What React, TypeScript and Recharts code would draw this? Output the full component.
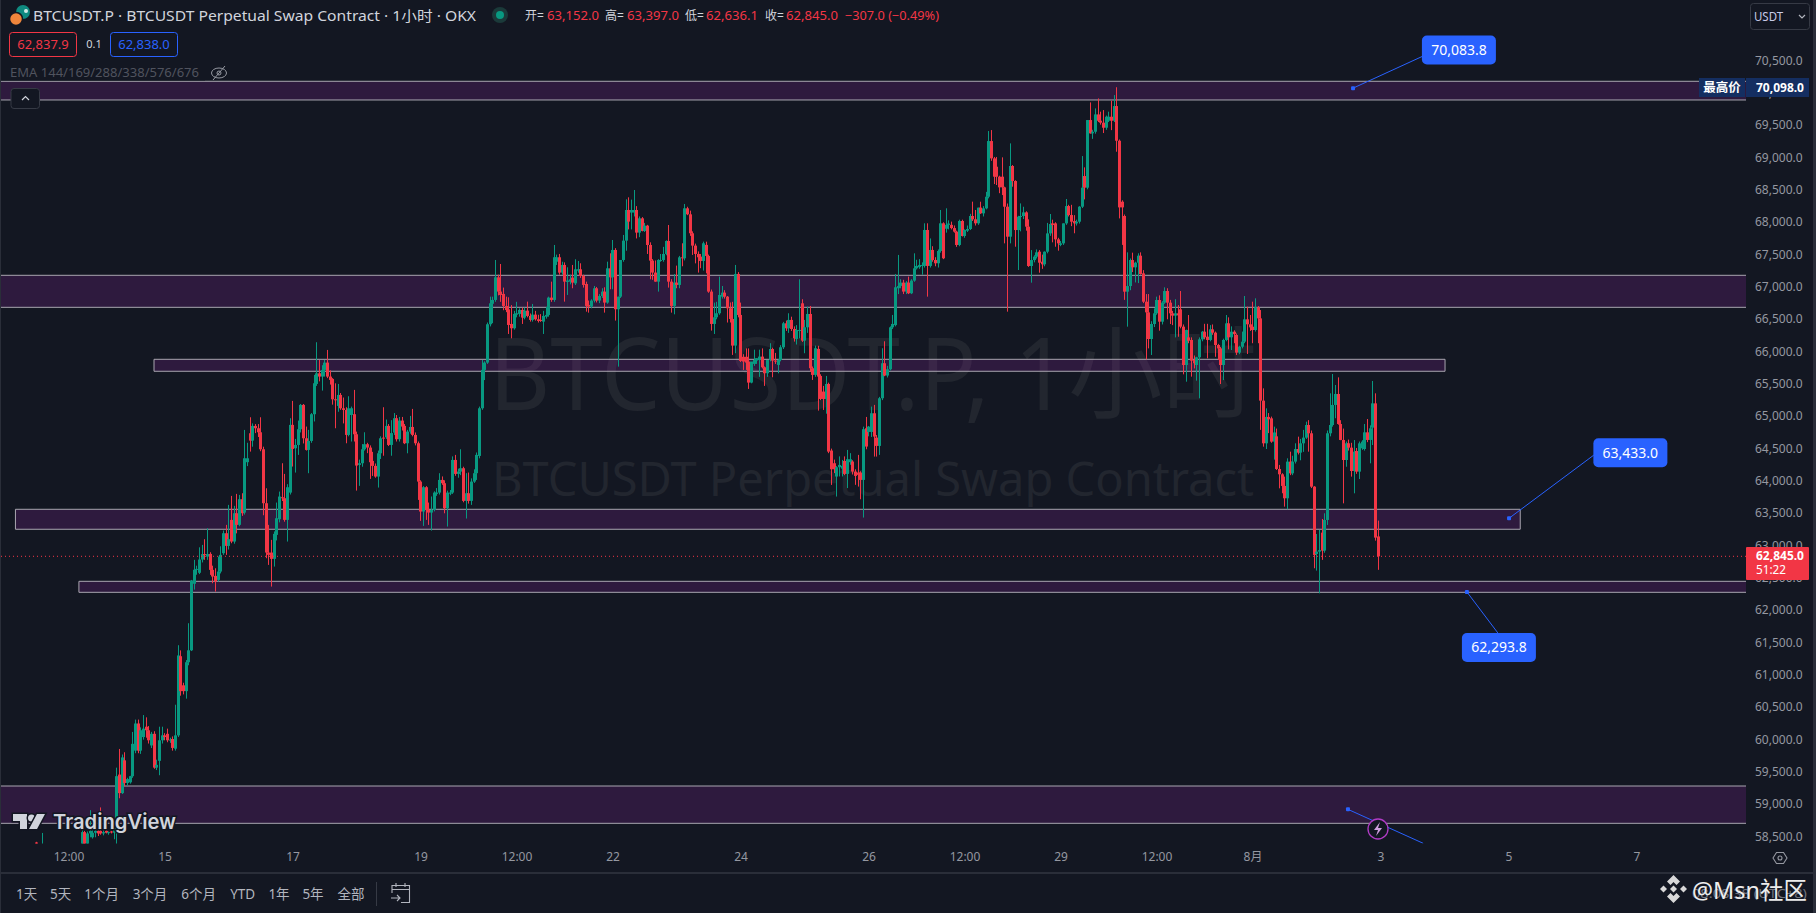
import React from "react";
import { ComposedChart, XAxis, YAxis, Bar, ReferenceArea, ReferenceLine, ReferenceDot } from "recharts";

const FONT = '"Noto Sans","Noto Sans CJK SC",sans-serif';
const UP = "#089981";
const DOWN = "#f23645";
const BG = "#131722";

// Hours counted from 15 Jul 00:00. Each row: open, high, low, close.
const earlyStart = -48;
const earlyRows = [[58420,58430,58250,58340],[58340,58370,58200,58280],[58280,58567,58250,58340]];
const rallyStart = -31;
const rallyRows = [
[58300,58640,58250,58580],[58580,58600,58300,58350],[58350,58590,58300,58560],[58560,58920,58500,58600],[58500,58640,58480,58570],
[58570,58680,58500,58600],[58600,58650,58520,58560],[58600,58962,58540,58560],[58560,58610,58530,58580],[58600,58610,58560,58570],
[58570,58590,58540,58580],[58590,58600,58560,58575],[58570,58640,58470,58620],[58620,59577,58394,59445],[59470,59866,59104,59183],
[59183,59780,59170,59735],[59690,59815,59290,59340],[59340,59420,59300,59400],[59350,59450,59330,59445],[59445,60129,59420,59945],
[59840,60320,59800,60260],[60260,60320,59800,59840],[59840,60200,59790,60155],[60050,60390,60010,60180],[60210,60355,60040,60155],
[60155,60220,59950,60000],[59920,60130,59880,60100],[60100,60140,59560,59577],[59577,59700,59540,59620],[59682,60210,59460,60000],
[60000,60210,59950,60076],[60076,60110,60000,60050],[60100,60180,59970,60000],[60000,60040,59960,60010],[60020,60060,59840,59882],
[59870,60550,59840,60076],[60076,61470,60050,61312],[61300,61390,60690,60760],[60850,60890,60710,60760],[60760,61240,60644,61207],
[61207,61810,61160,61391],[61391,62480,61380,62469],[62420,62790,62330,62637],[62637,62700,62560,62650],[62590,62984,62570,62795],
[62795,63021,62750,62879],
];
const climbStart = 15;
const climbRows = [
[62880,63109,62790,62867],[62840,63279,62790,62880],[62882,62908,62558,62635],[62635,62700,62429,62532],[62542,62660,62300,62455],
[62480,62841,62455,62609],[62609,63000,62580,62867],[62893,63243,62867,63202],[63202,63331,62867,63006],[63006,63640,62950,63110],
[63408,63779,63047,63073],[63073,63625,63040,63511],[63511,63810,63200,63331],[63331,63794,63310,63728],[63728,63820,63470,63511],
[63521,64799,63490,64361],[64300,64600,64240,64361],[64748,64995,64464,64634],[64634,64900,64540,64861],[64861,64890,64750,64825],
[64825,64890,64690,64763],[64763,64995,64470,64500],[64500,64540,63480,63666],[63666,63897,62815,62903],[62903,63331,62712,62867],
[62903,63099,62377,62805],[62805,63230,62686,63192],[63176,63676,63090,63434],[63418,63846,63370,63769],[63758,64284,63700,63743],
[63743,64119,63380,63408],[63408,63960,63073,63913],[63830,64980,63800,64877],[64877,65248,64233,64505],[64515,64660,64140,64567],
[64567,64944,64413,64810],[64810,65200,64760,65186],[65186,65200,64590,64670],[64670,64851,64480,64490],[64490,64800,64130,64629],
[64629,65060,64600,65042],[65042,65650,64930,65521],[65510,66155,65480,65675],[65675,65880,65550,65624],[65624,65800,65407,65727],
[65727,65880,65624,65840],[65840,66036,65600,65624],[65624,65720,65500,65572],[65588,65600,65190,65273],[65273,65520,64825,65263],
[65170,65510,65080,65340],[65340,65370,65110,65134],[65134,65300,64900,65108],[65108,65150,64593,64722],[64722,65320,64700,65134],
[65030,65160,64620,65134],[65042,65418,64620,64732],[64732,64773,63861,64248],[64258,64340,63934,64284],[64284,64580,64230,64500],
[64500,64763,64480,64578],[64578,64600,64440,64526],[64526,64560,64042,64300],[64320,64460,64088,64243],[64243,64280,64060,64078],
[64078,64480,63908,64438],[64438,64700,64350,64670],[64680,65150,64400,64670],[64686,64960,64660,64861],[64861,64890,64550,64567],
[64567,64950,64400,64750],[64758,65060,64720,64980],[64980,65030,64620,64655],[64655,65000,64620,64944],[64944,65000,64790,64851],
[64861,64890,64580,64593],[64593,64800,64438,64773],[64773,65016,64740,64845],[64845,65124,64700,64722],[64722,64760,64560,64593],
];
const breakoutStart = 95;
const breakoutRows = [
[64593,64620,63717,64000],[64000,64020,63393,63537],[63537,63930,63315,63913],[63913,63930,63408,63563],[63563,63676,63331,63521],
[63521,63770,63243,63563],[63563,63850,63540,63830],[63810,63900,63780,63830],[63830,64130,63800,64026],[64026,64080,63950,63975],
[63975,64020,63510,63588],[63588,63860,63305,63830],[63820,63870,63790,63830],[63830,64390,63810,64335],[64335,64413,64090,64119],
[64119,64200,64060,64155],[64155,64500,64100,64207],[64207,64230,63680,63702],[63702,64130,63429,63820],[63820,64140,63660,63702],
[63702,64050,63640,64000],[64000,64190,63980,64130],[64130,64450,64026,64413],[64397,65160,64360,65134],[65134,65880,65110,65727],
[65727,65860,65570,65840],[65840,66460,65820,66433],[66433,66860,66400,66757],[66750,66860,66450,66809],[66809,67427,66780,67159],
[67159,67200,66880,66938],[66938,67365,66780,66886],[66902,67000,66650,66716],[66716,66860,66620,66654],[66664,66850,66283,66422],
[66438,66730,66216,66371],[66371,66640,66350,66593],[66580,66780,66540,66603],[66593,66680,66550,66654],[66654,66690,66438,66536],
[66536,66690,66510,66644],[66644,66783,66540,66562],[66562,66600,66474,66500],[66500,66747,66474,66582],[66582,66640,66490,66510],
[66510,66580,66460,66484],[66500,66590,66470,66484],[66474,66640,66283,66562],[66550,66700,66520,66577],[66577,66860,66550,66845],
[66845,67092,66780,66809],[66809,67659,66780,67469],[67400,67510,67350,67469],[67469,67520,67200,67231],[67231,67400,67200,67350],
[67350,67390,66783,67092],[67087,67314,66886,67110],[67092,67200,67050,67128],[67154,67350,66990,67077],[67066,67438,67040,67283],
[67262,67412,67230,67283],[67283,67376,67150,67180],[67180,67200,67000,67041],
];
const rangeStart = 158;
const rangeRows = [
[67056,67092,66628,66716],[66732,66800,66613,66706],[66706,66820,66680,66799],[66799,67025,66770,66989],[66989,67010,66770,66799],
[66799,66900,66760,66870],[66870,66990,66840,66938],[66938,67005,66613,66768],[66768,67401,66750,67298],[67298,67530,66974,67159],
[67159,67736,66974,67582],[67582,67610,66490,66665],[66665,66860,65778,66860],[66860,67427,66840,67427],[67427,67814,67400,67726],
[67726,68365,67570,68200],[68200,68396,67900,68020],[68160,68360,67900,68200],[68160,68509,68100,68200],[68200,68260,67760,67850],
[67850,68100,67780,68071],[68071,68090,67870,67876],[67876,68000,67860,67958],[67958,67970,67520,67659],[67659,67700,67128,67417],
[67417,67440,67120,67232],[67232,67420,67090,67092],[67092,67440,66938,67427],[67412,67520,67400,67427],[67427,67630,67400,67520],
[67520,67730,67500,67721],[67721,67968,67000,67092],[67092,67130,66613,66716],[66716,67210,66587,67077],[67077,67340,66990,67041],
[67041,67490,66990,67468],[67468,67685,67330,67453],[67453,68293,67420,68226],[68226,68250,68120,68133],[68133,68190,67800,67840],
[67840,67870,67505,67649],[67649,67680,67375,67520],[67520,67560,67232,67469],[67479,67520,67300,67412],[67412,67711,67263,67685],
[67660,67710,67220,67489],[67489,67510,66920,66938],[66938,66970,66335,66438],[66438,66768,66283,66541],[66541,66780,66510,66603],
[66603,67170,66580,66886],[66860,67025,66830,66922],[66922,66960,66830,66860],[66860,66870,66460,66680],[66680,66770,66460,66515],
[66515,66780,65959,66103],[66103,67350,65985,67211],[67211,67240,66540,66577],[66577,66768,65850,65866],[65930,65970,65727,65856],
[65930,66060,65727,65840],[65856,66060,65433,65531],[65531,65850,65520,65856],[65820,66040,65790,65880],[65871,65910,65820,65907],
[65880,66040,65620,65933],[65933,66060,65750,65768],[65768,65780,65480,65675],[65675,65880,65620,65880],[65880,66140,65860,66051],
[66051,66070,65613,65871],[65871,65990,65820,65856],[65804,65890,65675,65880],[65880,66110,65860,66077],[66077,66470,66050,66448],
[66448,66490,66330,66371],[66371,66603,66300,66500],[66500,66550,66330,66360],[66360,66400,66165,66216],[66206,66420,66120,66345],
[66340,67128,66216,66345],[66757,66820,66160,66180],[66180,66500,65985,66386],[66386,66706,66300,66592],[66592,66716,65700,65753],
[65753,65780,65572,65650],[65650,66103,65620,66062],[66052,66100,65098,65624],
];
const dipStart = 246;
const dipRows = [
[65634,65660,65260,65278],[65392,65480,65108,65278],[65278,65634,65050,65510],[65510,65530,64440,64464],[64480,64510,63949,64191],
[64284,64340,64130,64191],[64078,64240,63769,64222],[64222,64390,64080,64258],[64200,64335,64080,64243],[64320,64390,64100,64119],
[64119,64490,63900,64346],[64300,64440,64260,64346],[64310,64330,64110,64155],[64155,64190,63950,64088],[64140,64413,63923,64104],
[64140,64160,63727,64026],[64026,64850,63444,64810],[64825,65000,64500,64542],[64768,64860,64700,64850],[64768,65160,64690,65057],
[65057,65186,64387,64696],[64680,64720,64387,64552],[64552,65310,64413,65289],[65289,66062,65260,65830],[65830,66170,65630,65640],
[65640,65790,65610,65737],[65737,66400,65720,66386],[66386,66577,66360,66438],[66420,67211,66400,67005],[66990,67505,66900,67025],
[67025,67130,66990,67077],[67077,67120,66900,66938],[66938,67100,66900,67077],[67077,67170,66900,66912],[66912,67130,66900,67108],
[67108,67530,67090,67298],[67298,67430,67280,67335],[67315,67440,67290,67350],[67335,67390,67200,67350],[67335,67994,67310,67891],
[67891,67994,66860,67335],[67335,67760,67310,67582],[67582,67640,67400,67427],[67427,67470,67330,67376],[67376,67590,67310,67566],
[67566,68200,67540,67994],[67994,68010,67440,67453],[67910,68226,67850,67970],[67970,68040,67900,67990],[67970,68020,67900,67920],
[67920,67960,67850,67865],[67865,67880,67630,67659],[67659,68050,67640,68030],[68030,68050,67790,67798],[67798,67900,67770,67891],
[67880,67960,67860,67906],[67906,68140,67890,68107],[68107,68329,68030,68056],[68056,68200,67960,67994],[67994,68236,67970,68236],
];
const topStart = 306;
const topRows = [
[68236,68328,68140,68148],[68148,68260,68100,68225],[68225,68480,68210,68405],[68405,69421,68380,69266],[69266,69436,68960,68998],
[68998,69020,68601,68715],[68869,69020,68586,68715],[68715,68730,68460,68550],[68715,69014,68431,68550],[68550,68560,67684,68251],
[68251,68300,66628,67787],[67787,69230,67684,68880],[68880,68895,68560,68648],[68648,68660,67632,67890],[67890,68110,67272,68096],
[68096,68302,67870,68107],[68107,68250,68060,68163],[68163,68180,67880,67942],[67942,68055,67320,67334],[67334,67580,67076,67426],
[67426,67500,67390,67478],[67478,67590,67450,67545],[67555,67580,67230,67385],[67400,67510,67290,67360],[67360,67560,67330,67555],
[67555,68000,67530,67838],[67838,68138,67800,67983],[67993,68050,67700,67968],[67993,68010,67632,67746],[67746,67770,67571,67684],
[67660,67720,67640,67684],[67684,67993,67660,67993],[67993,68370,67970,68261],[68261,68280,68100,68122],[68122,68280,67950,68019],
[68029,68120,67840,67993],[67993,68050,67960,68019],[68019,68260,67990,68251],[68251,69034,68230,68545],[68725,68859,68364,68545],
[68545,69591,68520,69591],[69591,69864,69380,69385],[69385,69440,69300,69410],[69410,69771,69380,69678],[69678,69925,69560,69580],
[69580,69720,69520,69550],[69550,69745,69390,69472],[69472,69660,69440,69642],[69580,69720,69560,69642],[69642,69890,69435,69580],
[69580,69977,69560,69807],[69807,70098,69101,69271],[69271,69290,68070,68240],[68328,68350,67660,68240],[68107,68130,66810,66937],
[66937,67545,66396,67024],[67024,67450,66960,67426],[67426,67540,67240,67313],[67313,67400,67080,67385],[67385,67530,67070,67493],
[67493,67545,67200,67210],[67220,67270,66760,66782],[66782,66900,65890,66617],[66617,66900,66060,66205],[66205,66480,65958,66437],
[66437,66680,66390,66602],[66602,66860,66580,66808],[66808,66880,66334,66473],[66473,66790,66430,66767],[66767,67004,66750,66947],
[66947,66990,66510,66767],[66767,66810,66437,66602],[66602,66640,66420,66566],[66566,66820,66230,66602],[66602,66730,66240,66570],
];
const slideStart = 381;
const slideRows = [
[66664,66947,66370,66396],[66396,66430,65659,65803],[65803,66350,65545,66344],[66230,66576,66140,66179],[66190,66230,65623,65870],
[65880,65950,65750,65830],[65803,65930,65561,65922],[65922,66230,65288,66200],[66200,66330,66170,66318],[66318,66440,66200,66231],
[66241,66440,65906,66190],[66190,66420,66170,66354],[66354,66430,66270,66303],[66303,66320,65930,66112],[66112,66130,65880,66060],
[66060,66080,65509,65803],[65803,66210,65570,66190],[66190,66576,66170,66447],[66447,66540,66045,66231],[66231,66400,66035,66318],
[66318,66340,66140,66280],[66267,66290,65958,65994],[65994,66100,65970,66086],[66086,66320,66060,66164],[66164,66870,66140,66509],
[66509,66705,65973,66432],[66432,66576,66330,66385],[66395,66782,66140,66344],[66344,66834,66320,66694],[66694,66715,66140,66524],
[66524,66653,64800,65252],[65252,65442,64540,64592],[64592,65133,64504,65000],[65000,65060,64750,64963],[64978,65005,64600,64618],
[64618,64850,64340,64760],[64700,64820,64180,64195],[64195,64258,63896,64113],[64113,64130,63820,63933],[63933,64077,63613,63742],
[63742,64360,63572,64309],[64309,64463,64100,64128],[64128,64400,64100,64309],[64309,64592,64280,64504],[64504,64695,64420,64448],
[64448,64660,64330,64592],[64592,64800,64460,64680],[64680,64927,64660,64875],[64875,64950,64463,64747],[64747,64790,63900,63922],
[63922,63930,62660,62866],[62880,63190,62624,62917],[62917,63253,62273,62940],[63211,63422,62790,62933],[62933,63510,62900,63407],
[63407,64790,63330,64747],[64747,65365,64700,64875],[64875,65664,64850,65185],[65185,65494,64980,65355],[65355,65612,64880,64891],
[64891,64950,64640,64644],[64644,64820,63664,64334],[64334,64620,64230,64592],[64592,64650,64480,64525],[64525,64600,64077,64164],
[64164,64643,63819,64463],[64473,64520,64120,64154],[64154,64620,64040,64592],[64515,64640,64490,64618],[64504,64891,64480,64762],
[64762,64968,64610,64644],[64644,64870,64283,64824],[64834,65556,64566,65210],[65210,65365,63087,63134],[63152,63397,62636,62845],
];

const xTickHours = [-36, 0, 48, 96, 132, 168, 216, 264, 300, 336, 372, 408, 456, 504, 552];
const xTickLabels = ["12:00", "15", "17", "19", "12:00", "22", "24", "26", "12:00", "29", "12:00", "8月", "3", "5", "7"];
const priceTicks = [58500,59000,59500,60000,60500,61000,61500,62000,62500,63000,63500,64000,64500,65000,65500,66000,66500,67000,67500,68000,68500,69000,69500,70000,70500];
const lastPrice = 62845;

const zoneHours = [[-80, 620], [-80, 620], [-3.94, 480.2], [-55.9, 508.4], [-32.1, 620], [-80, 620]];
const zoneTops = [70190, 67190, 65891, 63572, 62458, 59293];
const zoneBottoms = [69901, 66695, 65706, 63263, 62288, 58716];

const calloutAnchorHours = [445.7, 504.2, 488.4, 443.8];
const calloutAnchorPrices = [70083.8, 63433.0, 62293.8, 58932];
const calloutEndHours = [472.8, 536, 500, 472];
const calloutEndPrices = [70596, 64410, 61660, 58407];
const calloutBoxHours = [485.4, 549.7, 500.4];
const calloutBoxPrices = [70673, 64446, 61436];
const calloutTexts = ["70,083.8", "63,433.0", "62,293.8"];

const rangeButtons = ["1天", "5天", "1个月", "3个月", "6个月", "YTD", "1年", "5年", "全部"];
const rangeButtonCenters = [26.7, 60.7, 101.7, 150, 198.7, 242.7, 279, 313, 351];

const toCandles = (start: number, rows: number[][]) =>
  rows.map((r, i) => ({ hour: start + i, open: r[0], high: r[1], low: r[2], close: r[3], range: [r[2], r[1]] }));
const data = [
  ...toCandles(earlyStart, earlyRows),
  ...toCandles(rallyStart, rallyRows),
  ...toCandles(climbStart, climbRows),
  ...toCandles(breakoutStart, breakoutRows),
  ...toCandles(rangeStart, rangeRows),
  ...toCandles(dipStart, dipRows),
  ...toCandles(topStart, topRows),
  ...toCandles(slideStart, slideRows),
];

const fmt = (v: number) => v.toLocaleString("en-US", { minimumFractionDigits: 1, maximumFractionDigits: 1 });

function Candle(props: any) {
  const { x, width, y, height, payload } = props;
  if (!payload) return null;
  const { open, high, low, close } = payload;
  const cx = Math.round(x + width / 2);
  const k = high > low ? height / (high - low) : 0;
  const top = y + (high - Math.max(open, close)) * k;
  const bh = Math.max(1, Math.abs(open - close) * k);
  const color = close >= open ? UP : DOWN;
  return (
    <g>
      <rect x={cx} y={y} width={1} height={height} fill={color} />
      <rect x={cx - 1} y={top} width={3} height={bh} fill={color} />
    </g>
  );
}

function CalloutBox(props: any) {
  const { cx, cy, text } = props;
  return (
    <g>
      <rect x={cx - 37} y={cy - 14.5} width={74} height={29} rx={5} fill="#2962ff" />
      <text x={cx} y={cy + 5} textAnchor="middle" fontSize={14} fontFamily={FONT} fill="#fff">{text}</text>
    </g>
  );
}

function AnchorDot(props: any) {
  const { cx, cy } = props;
  return <rect x={cx - 2} y={cy - 2} width={4} height={4} rx={1} fill="#2962ff" />;
}

function Chart() {
  return (
    <ComposedChart width={1816} height={872} data={data} margin={{ top: 0, right: 0, left: 0, bottom: 0 }}>
      <XAxis
        dataKey="hour"
        type="number"
        domain={[-61.69, 593.06]}
        allowDataOverflow
        ticks={xTickHours}
        interval={0}
        tickFormatter={(v: number) => xTickLabels[xTickHours.indexOf(v)]}
        height={28.5}
        axisLine={false}
        tickLine={false}
        tickMargin={3}
        tick={{ fill: "#9598a1", fontSize: 12, fontFamily: FONT, dx: 0.5 }}
      />
      <YAxis
        orientation="right"
        width={70}
        domain={[58404, 71447]}
        allowDataOverflow
        ticks={priceTicks}
        interval={0}
        tickFormatter={fmt}
        axisLine={false}
        tickLine={false}
        tickMargin={3}
        tick={{ fill: "#9598a1", fontSize: 12, fontFamily: FONT, dy: -1 }}
      />
      <Bar dataKey="range" barSize={3} shape={Candle} isAnimationActive={false} />
      {zoneTops.map((t, i) => (
        <ReferenceArea
          key={i}
          x1={zoneHours[i][0]}
          x2={zoneHours[i][1]}
          y1={t}
          y2={zoneBottoms[i]}
          ifOverflow="hidden"
          fill="#9c27b0"
          fillOpacity={0.2}
          stroke="#a9a6b0"
          strokeWidth={1}
          strokeOpacity={1}
        />
      ))}
      <ReferenceLine y={lastPrice} stroke={DOWN} strokeDasharray="1 3" strokeWidth={1} />
      {calloutAnchorHours.map((h, i) => (
        <ReferenceLine
          key={"l" + i}
          ifOverflow="hidden"
          stroke="#2962ff"
          strokeWidth={1}
          segment={[{ x: h, y: calloutAnchorPrices[i] }, { x: calloutEndHours[i], y: calloutEndPrices[i] }]}
        />
      ))}
      {calloutAnchorHours.map((h, i) => (
        <ReferenceDot key={"d" + i} x={h} y={calloutAnchorPrices[i]} shape={AnchorDot} />
      ))}
      {calloutBoxHours.map((h, i) => (
        <ReferenceDot key={"b" + i} x={h} y={calloutBoxPrices[i]} shape={(p: any) => <CalloutBox {...p} text={calloutTexts[i]} />} />
      ))}
    </ComposedChart>
  );
}

function T(p: any) {
  const { x, y, size = 12, fill = "#d1d4dc", len, anchor, weight, children, ...rest } = p;
  return (
    <text x={x} y={y} fontSize={size} fill={fill} fontFamily={FONT} fontWeight={weight} textAnchor={anchor}
      {...(len ? { textLength: len, lengthAdjust: "spacingAndGlyphs" } : {})} {...rest}>
      {children}
    </text>
  );
}

function Watermark() {
  return (
    <svg width={1816} height={913} style={{ position: "absolute", left: 0, top: 0 }}>
      <T x={489} y={410} size={100} fill="#22262f" len={768}>BTCUSDT.P, 1小时</T>
      <T x={492} y={496} size={48} fill="#22262f" len={762}>BTCUSDT Perpetual Swap Contract</T>
    </svg>
  );
}

function Overlay() {
  return (
    <svg width={1816} height={913} style={{ position: "absolute", left: 0, top: 0 }}>
      {/* header */}
      <circle cx={23} cy={12} r={7} fill="#0f8a80" />
      <circle cx={26} cy={11} r={2} fill="#cfe8e4" />
      <circle cx={16} cy={19} r={6.5} fill="#f0863c" stroke={BG} strokeWidth={1.5} />
      <T x={33} y={21} size={14} len={443}>BTCUSDT.P · BTCUSDT Perpetual Swap Contract · 1小时 · OKX</T>
      <circle cx={500} cy={15} r={8} fill="#1b3a3a" />
      <circle cx={500} cy={15} r={4} fill="#089981" />
      <T x={525} y={20} size={12}>开=</T><T x={547} y={20} size={12} fill={DOWN} len={52}>63,152.0</T>
      <T x={605} y={20} size={12}>高=</T><T x={627} y={20} size={12} fill={DOWN} len={52}>63,397.0</T>
      <T x={685} y={20} size={12}>低=</T><T x={706} y={20} size={12} fill={DOWN} len={52}>62,636.1</T>
      <T x={765} y={20} size={12}>收=</T><T x={786} y={20} size={12} fill={DOWN} len={52}>62,845.0</T>
      <T x={845} y={20} size={12} fill={DOWN} len={94}>−307.0 (−0.49%)</T>
      <rect x={9.5} y={32.5} width={67} height={24} rx={3} fill={BG} stroke={DOWN} />
      <T x={43} y={49} size={13} fill={DOWN} anchor="middle">62,837.9</T>
      <T x={94} y={48} size={11} anchor="middle">0.1</T>
      <rect x={110.5} y={32.5} width={67} height={24} rx={3} fill={BG} stroke="#2962ff" />
      <T x={144} y={49} size={13} fill="#2962ff" anchor="middle">62,838.0</T>
      <rect x={1} y={64} width={204} height={16.5} fill={BG} />
      <T x={10} y={77} size={12} fill="#50535e" len={189}>EMA 144/169/288/338/576/676</T>
      <g stroke="#9598a1" fill="none" strokeWidth={1}>
        <ellipse cx={219} cy={73} rx={7.5} ry={5} />
        <circle cx={219} cy={73} r={2} />
        <line x1={213} y1={80} x2={225} y2={66} />
      </g>
      <rect x={11} y={88.5} width={28.5} height={20} rx={3} fill={BG} stroke="#363a45" />
      <path d="M22 100 L25.5 96.5 L29 100" stroke="#d1d4dc" fill="none" strokeWidth={1.2} />
      {/* right top */}
      <rect x={1750.5} y={3.5} width={59} height={26} rx={3} fill={BG} stroke="#363a45" />
      <T x={1754} y={21} size={12} fill="#c8cbe8" len={29}>USDT</T>
      <path d="M1799 15 L1802 18 L1805 15" stroke="#b2b5be" fill="none" strokeWidth={1.2} />
      {/* high label */}
      <rect x={1699} y={78} width={46} height={19} fill="#142e61" />
      <T x={1722} y={92} size={12.5} fill="#fff" anchor="middle" weight={600}>最高价</T>
      <rect x={1746} y={78} width={63} height={19} fill="#142e61" />
      <T x={1756} y={92} size={12.5} fill="#fff" weight={700} len={48}>70,098.0</T>
      {/* last price */}
      <rect x={1746} y={547} width={63} height={33} fill={DOWN} rx={1} />
      <T x={1756} y={560} size={12.5} fill="#fff" weight={700} len={48}>62,845.0</T>
      <T x={1756} y={574} size={12} fill="#fff" len={30}>51:22</T>
      {/* lightning */}
      <circle cx={1378} cy={829} r={10} fill={BG} stroke="#b13cc6" strokeWidth={1.3} />
      <path d="M1380 822 L1374 830 L1378 830 L1376 836 L1382 828 L1378 828 Z" fill="#d0a0e0" />
      {/* TradingView logo */}
      <g style={{ paintOrder: "stroke" } as any} stroke={BG} strokeWidth={3}>
        <path d="M13 814 H27 V829 H20 V821 H13 Z" fill="#d1d4dc" />
        <circle cx={31.5} cy={818} r={3.5} fill="#d1d4dc" />
        <path d="M37 814 H45 L37 829 H29 Z" fill="#d1d4dc" />
        <T x={53} y={829} size={20.5} weight={600} len={123} fill="#d1d4dc" style={{ fontFamily: "Inter", paintOrder: "stroke" }}>TradingView</T>
      </g>
      {/* frame */}
      <rect x={0} y={0} width={1} height={913} fill="#2a2e39" />
      <rect x={1813} y={0} width={3} height={913} fill="#2a2e39" />
      <rect x={0} y={872} width={1816} height={2} fill="#2a2e39" />
      {/* settings hexagon */}
      <g stroke="#9598a1" fill="none" strokeWidth={1.1}>
        <path d="M1773 858 L1776.5 852.5 H1783.5 L1787 858 L1783.5 863.5 H1776.5 Z" />
        <circle cx={1780} cy={858} r={2} />
      </g>
      {/* toolbar */}
      {rangeButtons.map((b, i) => (
        <T key={b} x={rangeButtonCenters[i]} y={899} size={13.5} fill="#b2b5be" anchor="middle">{b}</T>
      ))}
      <rect x={376} y={882} width={1} height={24} fill="#363a45" />
      <g stroke="#b2b5be" fill="none" strokeWidth={1.1}>
        <path d="M392 893 V885.5 H409.5 V902.5 H401 M392 889.5 H409.5 M396 883 V887 M405 883 V887 M391 898 H400 M397 895 L400 898 L397 901" />
      </g>
      {/* clock, under the source mark */}
      <T x={1692} y={898} size={13} fill="#6f727c" len={115}>08:08:38 (UTC+8)</T>
      {/* source mark */}
      <g fill="#d8d8d8">
        <path d="M1673.5 875 L1680 881.5 L1676.5 885 L1673.5 882 L1670.5 885 L1667 881.5 Z" />
        <path d="M1673.5 903 L1680 896.5 L1676.5 893 L1673.5 896 L1670.5 893 L1667 896.5 Z" />
        <path d="M1660 889 L1663.5 885.5 L1667 889 L1663.5 892.5 Z" />
        <path d="M1680 889 L1683.5 885.5 L1687 889 L1683.5 892.5 Z" />
        <path d="M1673.5 885.5 L1677 889 L1673.5 892.5 L1670 889 Z" />
      </g>
      <T x={1692} y={899} size={24} fill="#ececec" len={115}>@Msn社区</T>
    </svg>
  );
}

export default function App() {
  return (
    <div style={{ position: "fixed", left: 0, top: 0, width: 1816, height: 913, background: BG, overflow: "hidden" }}>
      <Watermark />
      <div style={{ position: "absolute", left: 0, top: 0 }}>
        <Chart />
      </div>
      <Overlay />
    </div>
  );
}
